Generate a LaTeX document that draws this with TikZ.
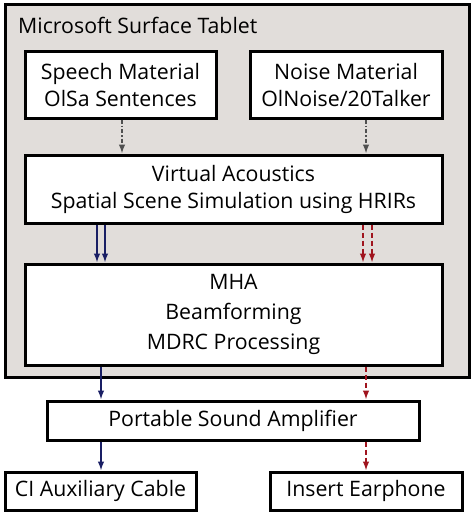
\documentclass[tikz,border=0pt]{standalone}
\usepackage{fontspec}
\setmainfont{Open Sans}
\usetikzlibrary{calc,arrows.meta}
\definecolor{tablet}{RGB}{225,221,218}
\definecolor{srcgray}{RGB}{80,80,80}
\definecolor{leftblue}{RGB}{25,30,100}
\definecolor{rightred}{RGB}{160,20,30}

\begin{document}
\begin{tikzpicture}[x=1pt,y=-1pt,
  box/.style={draw,line width=3pt,fill=white,inner sep=0pt,align=center,font=\fontsize{21.3}{27}\selectfont},
  sig/.style={-{Latex[length=9pt,width=6.5pt]},line width=1.4pt}]
\useasboundingbox (0,0) rectangle (474,516);
\draw[line width=3pt,fill=tablet] (5,5) rectangle (469,377);
\node[anchor=north west,inner sep=0pt,font=\fontsize{21.3}{24}\selectfont] (tablet) at (18,17) {Microsoft Surface Tablet};

\node[box,minimum width=191,minimum height=66] (speech) at (120.5,85) {Speech Material\\OlSa Sentences};
\node[box,minimum width=192,minimum height=66] (noise) at (346,85) {Noise Material\\OlNoise/20Talker};
\node[box,minimum width=417,minimum height=68] (virtual) at (233.5,189) {Virtual Acoustics\\Spatial Scene Simulation using HRIRs};
\node[box,minimum width=417,minimum height=101,font=\fontsize{21.3}{30}\selectfont] (mha) at (233.5,314.5) {MHA\\Beamforming\\MDRC Processing};
\node[box,minimum width=372,minimum height=39] (amp) at (233,420.5) {Portable Sound Amplifier};
\node[box,minimum width=191,minimum height=38] (cable) at (100.5,491) {CI Auxiliary Cable};
\node[box,minimum width=192,minimum height=38] (earphone) at (366,491) {Insert Earphone};

\coordinate (lsrc) at (122,0);
\coordinate (rsrc) at (366,0);
\coordinate (lout) at (101,0);
\coordinate (rout) at (366,0);

\draw[sig,srcgray,dash pattern=on 4pt off 2pt on 1.5pt off 2pt] (speech.south -| lsrc) -- (virtual.north -| lsrc);
\draw[sig,srcgray,dash pattern=on 4pt off 2pt on 1.5pt off 2pt] (noise.south -| rsrc) -- (virtual.north -| rsrc);
\foreach \x in {97,105}
  \draw[sig,leftblue] (virtual.south -| \x,0) -- (mha.north -| \x,0);
\foreach \x in {363,372}
  \draw[sig,rightred,dash pattern=on 5pt off 3pt] (virtual.south -| \x,0) -- (mha.north -| \x,0);
\draw[sig,leftblue] (mha.south -| lout) -- (amp.north -| lout);
\draw[sig,rightred,dash pattern=on 5pt off 3pt] (mha.south -| rout) -- (amp.north -| rout);
\draw[sig,leftblue] (amp.south -| lout) -- (cable.north -| lout);
\draw[sig,rightred,dash pattern=on 5pt off 3pt] (amp.south -| rout) -- (earphone.north -| rout);
\end{tikzpicture}
\end{document}
